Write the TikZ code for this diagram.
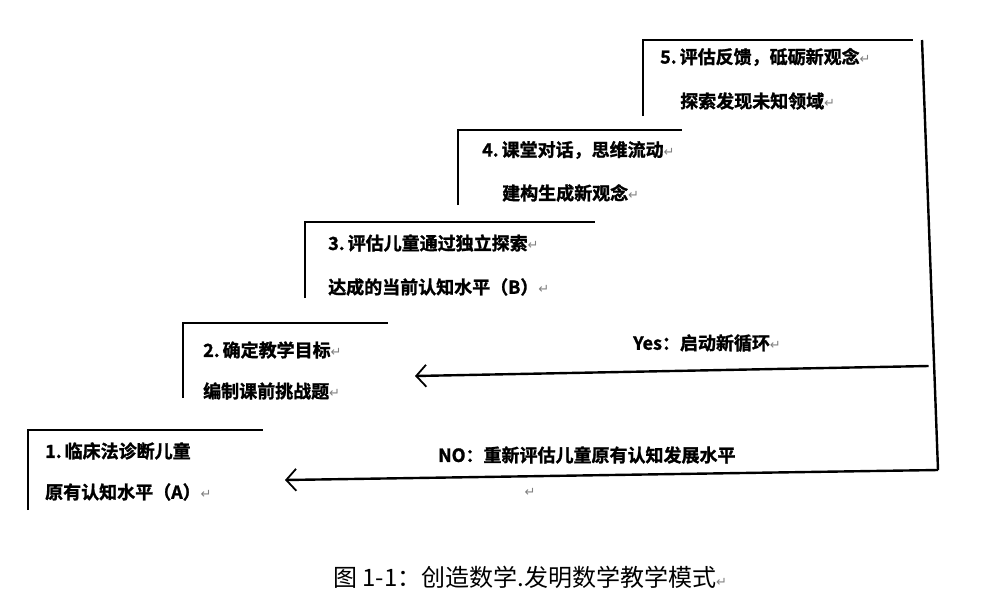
\documentclass[tikz,border=0pt]{standalone}
\usepackage{fontspec}
\setmainfont{Liberation Serif}
\newfontfamily\cjk{Noto Sans CJK SC}
\newfontfamily\cjkb[FakeBold=1.5]{Noto Sans CJK SC Bold}
\newfontfamily\sym{DejaVu Sans}
\usetikzlibrary{arrows.meta}
\newcommand{\parmark}{{\sym\color{gray}\fontsize{13}{13}\selectfont ↵}}
\begin{document}
\begin{tikzpicture}[x=1pt,y=-1pt,
  lbl/.style={anchor=west,inner sep=0pt,font=\cjkb\fontsize{18}{18}\selectfont},
  frame/.style={line width=2.4pt},
  arr/.style={line width=2.4pt,-{Straight Barb[length=10pt,width=22pt,line width=1.8pt]}}]
\useasboundingbox (0,0) rectangle (984,603);
% frames
\coordinate (t5) at (643,40); \draw[frame] (643,116) -- (t5) -- (913,40);
\coordinate (t4) at (458,130); \draw[frame] (458,205) -- (t4) -- (682,130);
\coordinate (t3) at (305,222); \draw[frame] (305,298) -- (t3) -- (595,222);
\coordinate (t2) at (183,323); \draw[frame] (183,398) -- (t2) -- (388,323);
\coordinate (t1) at (28,430); \draw[frame] (28,510) -- (t1) -- (263,430);
% texts
\node[lbl] (a5) at (660,57) {5.\,评估反馈，砥砺新观念\parmark};
\node[lbl] (b5) at (680,101) {探索发现未知领域\parmark};
\node[lbl] (a4) at (482,150) {4.\,课堂对话，思维流动\parmark};
\node[lbl] (b4) at (502,193) {建构生成新观念\parmark};
\node[lbl] (a3) at (328,243) {3.\,评估儿童通过独立探索\parmark};
\node[lbl] (b3) at (328,287) {达成的当前认知水平（B）\parmark};
\node[lbl] (a2) at (203,350) {2.\,确定教学目标\parmark};
\node[lbl] (b2) at (203,391) {编制课前挑战题\parmark};
\node[lbl] (a1) at (45,451) {1.\,临床法诊断儿童};
\node[lbl] (b1) at (45,492) {原有认知水平（A）\parmark};
% loop
\coordinate (r0) at (922,40);
\coordinate (ry) at (928.5,366);
\coordinate (rn) at (938,470);
\coordinate (ey) at (415,376);
\coordinate (en) at (285,480);
\draw[frame] (r0) -- (rn);
\draw[arr] (ry) -- (ey);
\draw[arr] (rn) -- (en);
\node[lbl] (yes) at (633,343) {Yes：启动新循环\parmark};
\node[lbl] (no) at (438,455) {NO：重新评估儿童原有认知发展水平};
\node[inner sep=0pt] (pm) at (530,492) {\parmark};
\node[inner sep=0pt,font=\cjk\fontsize{24}{24}\selectfont] (cap) at (530,577) {图 1-1：创造数学.发明数学教学模式\parmark};
\end{tikzpicture}
\end{document}
